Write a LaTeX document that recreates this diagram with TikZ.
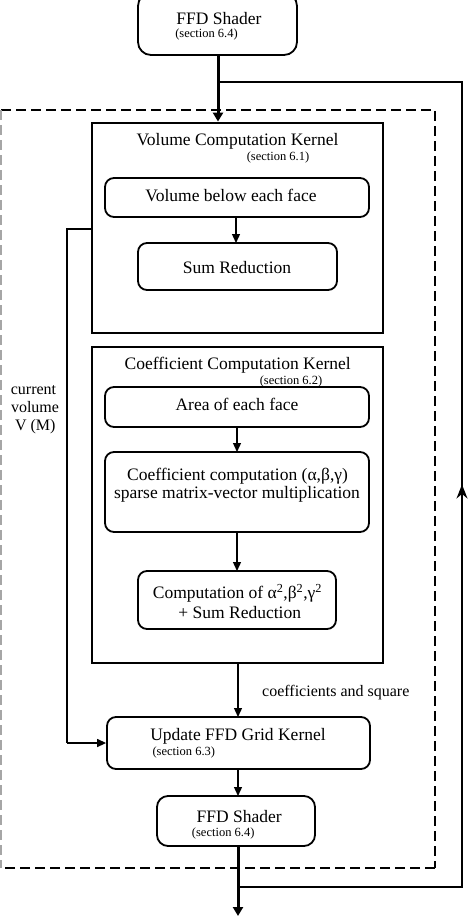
\documentclass[tikz,border=0pt]{standalone}
\usepackage{fontspec}
\setmainfont{Liberation Serif}
\usetikzlibrary{arrows.meta,decorations.markings}
\begin{document}
\begin{tikzpicture}[x=1pt,y=-1pt,
 rbox/.style={draw, line width=1.8pt, rounded corners=9pt, inner sep=0pt},
 kbox/.style={draw, line width=2.8pt, inner sep=0pt},
 big/.style={font=\fontsize{17.5}{20}\selectfont, inner sep=0pt, anchor=base},
 sec/.style={font=\fontsize{12.5}{14}\selectfont, inner sep=0pt, anchor=base},
 lab/.style={font=\fontsize{16}{18}\selectfont, inner sep=0pt, anchor=base},
 thinline/.style={line width=1.3pt},
 thickarr/.style={line width=3pt, -{Triangle[length=9pt,width=10pt]}},
 thinarr/.style={line width=1.3pt, -{Triangle[length=9pt,width=8pt]}},
]
\useasboundingbox (0,0) rectangle (470,916);

% dashed frame
\draw[line width=2pt, dash pattern=on 10pt off 5pt] (435,868) -- (1,868);
\draw[line width=2pt, dash pattern=on 10pt off 5pt] (1,110) -- (435,110) -- (435,868);
\draw[line width=2pt, gray!70, dash pattern=on 10pt off 5pt] (1,110) -- (1,868);

% top shader
\node[rbox, rounded corners=13pt, minimum width=159pt, minimum height=62pt] (top) at (217.5,24) {};
\node[big] (topt) at (219,24) {FFD Shader};
\node[sec] (tops) at (206.5,37) {(section 6.4)};

% volume kernel
\node[kbox, minimum width=291pt, minimum height=210pt] (vk) at (237.5,228) {};
\node[big] (vkt) at (237.5,145) {Volume Computation Kernel};
\node[sec] (vks) at (278,160) {(section 6.1)};
\node[rbox, minimum width=264pt, minimum height=39pt] (vbf) at (237,197.5) {};
\node[big] (vbft) at (231,201.7) {Volume below each face};
\node[rbox, minimum width=199pt, minimum height=47pt] (sr) at (237.5,266.5) {};
\node[big] (srt) at (237,273.3) {Sum Reduction};

% coefficient kernel
\node[kbox, minimum width=291pt, minimum height=316pt] (ck) at (237.5,505) {};
\node[big] (ckt) at (237.7,369.5) {Coefficient Computation Kernel};
\node[sec] (cks) at (291,384) {(section 6.2)};
\node[rbox, minimum width=264pt, minimum height=40pt] (area) at (237,407) {};
\node[big] (areat) at (237,410.7) {Area of each face};
\node[rbox, minimum width=264pt, minimum height=80pt] (cc) at (237,492) {};
\node[big] (cct1) at (237.5,480) {Coefficient computation (α,β,γ)};
\node[big] (cct2) at (237,498.3) {sparse matrix-vector multiplication};
\node[rbox, minimum width=198pt, minimum height=58pt] (sq) at (237,600) {};
\node[big] (sqt1) at (237.5,598.3) {Computation of α\textsuperscript{2},β\textsuperscript{2},γ\textsuperscript{2}};
\node[big] (sqt2) at (239.7,618.3) {+ Sum Reduction};

% update kernel
\node[rbox, minimum width=263pt, minimum height=52pt] (up) at (238.5,743) {};
\node[big] (upt) at (238,740.7) {Update FFD Grid Kernel};
\node[sec] (ups) at (183.8,755.7) {(section 6.3)};

% bottom shader
\node[rbox, rounded corners=11pt, minimum width=158pt, minimum height=50pt] (bot) at (236,821) {};
\node[big] (bott) at (239.2,822.7) {FFD Shader};
\node[sec] (bots) at (223.2,836) {(section 6.4)};

% labels
\node[lab] (l1) at (33.5,394) {current};
\node[lab] (l2) at (35,412.7) {volume};
\node[lab] (l3) at (35.3,430.7) {V (M)};
\node[lab] (l4) at (335.8,696.7) {coefficients and square};

% coordinates
\coordinate (b1) at (218,82);
\coordinate (b2) at (462,82);
\coordinate (b3) at (462,887);
\coordinate (b4) at (238,887);
\coordinate (vl1) at (67,229);
\coordinate (vl2) at (67,743);
\coordinate (vkl) at (92,229);
\coordinate (endb) at (238,916);

% connectors
\draw[thickarr] (top.south -| b1) -- (b1 |- vk.north) ;
\draw[thinline] (b1) -- (b2) -- (b3) -- (b4);
\draw[thinline, postaction={decorate}, decoration={markings, mark=at position 0.5 with {\arrow{Stealth[length=14pt,width=11pt]}}}] (b3) -- (b2);
\draw[thinarr] (236,217) -- (236,243);
\draw[thinarr] (237,427) -- (237,452);
\draw[thinarr] (237,532) -- (237,571);
\draw[thinarr] (238,663) -- (238,717);
\draw[thinarr] (238,769) -- (238,796);
\draw[thinline] (vkl) -- (vl1) -- (vl2);
\draw[thinarr] (vl2) -- (up.west);
\draw[thickarr] (238,846) -- (endb);
\end{tikzpicture}
\end{document}
